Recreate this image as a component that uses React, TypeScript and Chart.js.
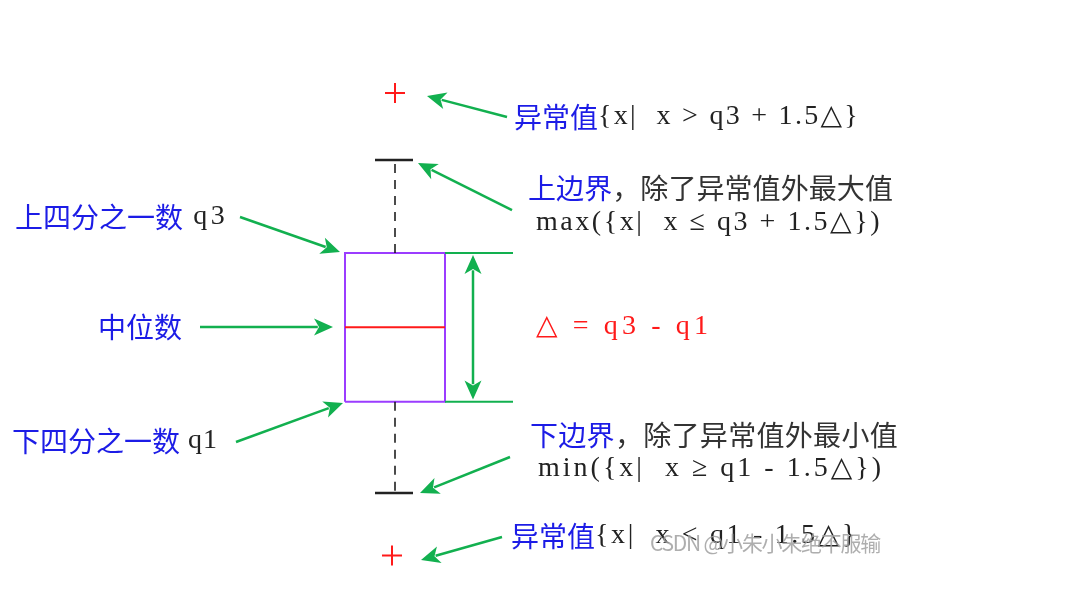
import React, { useEffect, useRef } from 'react';
import { Chart, registerables } from 'chart.js';

Chart.register(...registerables);

// ---- statistic values (data units) ----
const boxEdgesX = [-0.5, 0.5];
const q1 = 40;
const median = 50;
const q3 = 60;
const upperWhisker = 72.5;
const lowerWhisker = 27.7;
const capHalfWidth = [-0.2, 0.18];
const outliersX = [0, -0.03];
const outliersY = [81.5, 19.3];
const iqrGuideX = [0.5, 1.18];
const iqrArrowX = 0.78;

// ---- annotation arrows ----
const arrowFromX = [1.12, 1.17, -1.55, -1.95, -1.59, 1.15, 1.07];
const arrowFromY = [78.27, 65.76, 64.82, 50.03, 34.57, 32.55, 21.8];
const arrowToX = [0.32, 0.23, -0.55, -0.62, -0.52, 0.25, 0.26];
const arrowToY = [81.09, 72.08, 60.12, 50.03, 39.82, 27.71, 18.71];

// ---- labels ----
const labelTexts = [
  [['异常值', 'blue', 'cjk'], ['{x|  x > q3 + 1.5△}', 'black', 'latin']],
  [['上边界', 'blue', 'cjk'], ['，除了异常值外最大值', 'gray', 'cjk']],
  [['max({x|  x ≤ q3 + 1.5△})', 'black', 'latin']],
  [['上四分之一数', 'blue', 'cjk'], [' q3', 'black', 'latin']],
  [['中位数', 'blue', 'cjk']],
  [['△ = q3 - q1', 'red', 'latin']],
  [['下四分之一数', 'blue', 'cjk'], [' q1', 'black', 'latin']],
  [['下边界', 'blue', 'cjk'], ['，除了异常值外最小值', 'gray', 'cjk']],
  [['min({x|  x ≥ q1 - 1.5△})', 'black', 'latin']],
  [['异常值', 'blue', 'cjk'], ['{x|  x < q1 - 1.5△}', 'black', 'latin']],
];
const labelX = [1.19, 1.33, 1.41, -3.8, -2.97, 1.41, -3.83, 1.35, 1.43, 1.16];
const labelEndX = [4.65, 4.98, 4.87, -1.67, -2.13, 3.17, -1.77, 5.03, 4.89, 4.63];
const labelY = [78.27, 68.72, 64.02, 64.82, 50.03, 50.03, 34.71, 35.51, 30.94, 21.93];

const watermark = 'CSDN @小朱小朱绝不服输';
const watermarkX = 2.55;
const watermarkEndX = 4.85;
const watermarkY = 20.99;

const COLORS: Record<string, string> = {
  blue: '#1c1ce6',
  black: '#222222',
  gray: '#333333',
  red: '#ff1a1a',
};
const GREEN = '#12b04f';
const PURPLE = '#9b3cff';

const line = (pts: { x: number; y: number }[], color: string, width: number, dash: number[] = []) => ({
  data: pts,
  showLine: true,
  borderColor: color,
  borderWidth: width,
  borderDash: dash,
  pointRadius: 0,
  fill: false,
  tension: 0,
});

const arrowPlugin = {
  id: 'arrows',
  afterDatasetsDraw(chart: any) {
    const { ctx, scales } = chart;
    const xs = scales.x;
    const ys = scales.y;
    const drawArrow = (x1: number, y1: number, x2: number, y2: number, headBoth = false) => {
      const headLen = 19;
      const headHalf = 8.5;
      const dx = x2 - x1;
      const dy = y2 - y1;
      const len = Math.hypot(dx, dy);
      const ux = dx / len;
      const uy = dy / len;
      const sx = headBoth ? x1 + ux * headLen * 0.8 : x1;
      const sy = headBoth ? y1 + uy * headLen * 0.8 : y1;
      ctx.save();
      ctx.strokeStyle = GREEN;
      ctx.fillStyle = GREEN;
      ctx.lineWidth = 2.5;
      ctx.beginPath();
      ctx.moveTo(sx, sy);
      ctx.lineTo(x2 - ux * headLen * 0.8, y2 - uy * headLen * 0.8);
      ctx.stroke();
      const head = (tx: number, ty: number, vx: number, vy: number) => {
        const bx = tx - vx * headLen;
        const by = ty - vy * headLen;
        ctx.beginPath();
        ctx.moveTo(tx, ty);
        ctx.lineTo(bx - vy * headHalf, by + vx * headHalf);
        ctx.lineTo(bx + vx * 5, by + vy * 5);
        ctx.lineTo(bx + vy * headHalf, by - vx * headHalf);
        ctx.closePath();
        ctx.fill();
      };
      head(x2, y2, ux, uy);
      if (headBoth) head(x1, y1, -ux, -uy);
      ctx.restore();
    };
    for (let i = 0; i < arrowFromX.length; i++) {
      drawArrow(
        xs.getPixelForValue(arrowFromX[i]),
        ys.getPixelForValue(arrowFromY[i]),
        xs.getPixelForValue(arrowToX[i]),
        ys.getPixelForValue(arrowToY[i])
      );
    }
    drawArrow(
      xs.getPixelForValue(iqrArrowX),
      ys.getPixelForValue(q1 + 0.3),
      xs.getPixelForValue(iqrArrowX),
      ys.getPixelForValue(q3 - 0.3),
      true
    );
  },
};

const CJK_FONT = '28px "Noto Sans CJK SC"';
const LATIN_FONT = '28px "Liberation Serif", "DejaVu Serif", serif';

const textPlugin = {
  id: 'labels',
  afterDraw(chart: any) {
    const { ctx, scales } = chart;
    const xs = scales.x;
    const ys = scales.y;
    ctx.save();
    ctx.textBaseline = 'middle';
    ctx.textAlign = 'left';
    labelTexts.forEach((parts: any[], i: number) => {
      const x0 = xs.getPixelForValue(labelX[i]);
      const x1 = xs.getPixelForValue(labelEndX[i]);
      const y = ys.getPixelForValue(labelY[i]);
      let natural = 0;
      let latinChars = 0;
      let cjkChars = 0;
      parts.forEach(([t, , kind]) => {
        ctx.font = kind === 'cjk' ? CJK_FONT : LATIN_FONT;
        (ctx as any).letterSpacing = '0px';
        natural += ctx.measureText(t).width;
        if (kind === 'latin') latinChars += [...t].length;
        else cjkChars += [...t].length;
      });
      const extra = x1 - x0 - natural;
      const latinSpacing = latinChars > 0 ? Math.max(-2, extra / latinChars) : 0;
      const cjkSpacing = latinChars > 0 ? 0 : Math.max(-2, Math.min(3, extra / cjkChars));
      let cx = x0;
      parts.forEach(([t, color, kind]) => {
        ctx.font = kind === 'cjk' ? CJK_FONT : LATIN_FONT;
        const sp = kind === 'cjk' ? cjkSpacing : latinSpacing;
        (ctx as any).letterSpacing = `${sp}px`;
        ctx.fillStyle = COLORS[color];
        ctx.fillText(t, cx, y);
        cx += ctx.measureText(t).width;
      });
    });
    // watermark
    (ctx as any).letterSpacing = '0px';
    ctx.font = '21px "Noto Sans CJK SC"';
    const wx0 = xs.getPixelForValue(watermarkX);
    const wx1 = xs.getPixelForValue(watermarkEndX);
    const ww = ctx.measureText(watermark).width;
    (ctx as any).letterSpacing = `${(wx1 - wx0 - ww) / [...watermark].length}px`;
    ctx.fillStyle = 'rgba(160,160,160,0.85)';
    ctx.fillText(watermark, wx0, ys.getPixelForValue(watermarkY));
    ctx.restore();
  },
};

export default function App() {
  const ref = useRef<HTMLCanvasElement>(null);
  useEffect(() => {
    if (!ref.current) return;
    const [bl, br] = boxEdgesX;
    const chart = new Chart(ref.current, {
      type: 'scatter',
      data: {
        datasets: [
          line([{ x: iqrGuideX[0], y: q3 }, { x: iqrGuideX[1], y: q3 }], GREEN, 2),
          line([{ x: iqrGuideX[0], y: q1 }, { x: iqrGuideX[1], y: q1 }], GREEN, 2),
          line([{ x: 0, y: q3 }, { x: 0, y: upperWhisker }], '#111', 1.5, [9, 7]),
          line([{ x: 0, y: q1 }, { x: 0, y: lowerWhisker }], '#111', 1.5, [9, 7]),
          line([{ x: capHalfWidth[0], y: upperWhisker }, { x: capHalfWidth[1], y: upperWhisker }], '#222', 2.5),
          line([{ x: capHalfWidth[0], y: lowerWhisker }, { x: capHalfWidth[1], y: lowerWhisker }], '#222', 2.5),
          line([{ x: bl, y: median }, { x: br, y: median }], '#ff1a1a', 2),
          line(
            [
              { x: bl, y: q1 },
              { x: bl, y: q3 },
              { x: br, y: q3 },
              { x: br, y: q1 },
              { x: bl, y: q1 },
            ],
            PURPLE,
            2
          ),
          {
            data: outliersX.map((x, i) => ({ x, y: outliersY[i] })),
            showLine: false,
            pointStyle: 'cross',
            pointRadius: 10,
            pointBorderColor: '#ff1a1a',
            pointBorderWidth: 2,
            borderColor: '#ff1a1a',
          },
        ] as any,
      },
      options: {
        animation: false,
        responsive: false,
        maintainAspectRatio: false,
        layout: { padding: 0, autoPadding: false },
        plugins: { legend: { display: false }, tooltip: { enabled: false } },
        events: [],
        scales: {
          x: { type: 'linear', min: -3.95, max: 6.84, display: false },
          y: { type: 'linear', min: 14, max: 94, display: false },
        },
      },
      plugins: [arrowPlugin, textPlugin],
    });
    return () => chart.destroy();
  }, []);
  return (
    <div style={{ position: 'fixed', left: 0, top: 0, width: 1079, height: 595, background: '#fff' }}>
      <canvas ref={ref} width={1079} height={595} />
    </div>
  );
}
